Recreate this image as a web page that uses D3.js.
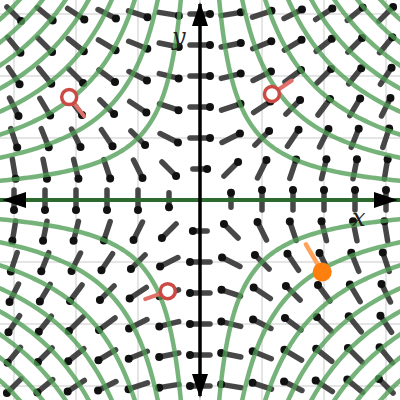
<!DOCTYPE html>
<html><head><meta charset="utf-8">
<script src="https://cdn.jsdelivr.net/npm/d3@7"></script>
<style>body{margin:0;background:#fff}</style>
</head><body><div id="chart"></div>
<script>
// grid ticks (units), curve levels |xy| = c, markers
const gridTicks = [-3, -2, -1, 0, 1, 2, 3];
const levels = [1, 2.2, 3.4, 4.6, 5.8, 7, 8.2, 9.4, 10.6, 12];
const quadrants = [[1, 1], [-1, 1], [-1, -1], [1, -1]];
const redPoints = [[-2.11, 1.66], [1.16, 1.71], [-0.52, -1.47]];
const orangePoint = [1.97, -1.16];

const W = 400, H = 400;
const x = d3.scaleLinear().domain([-3.226, 3.226]).range([0, W]);
const y = d3.scaleLinear().domain([-3.226, 3.226]).range([H, 0]);
const field = (a, b) => [b, a];

const svg = d3.select('#chart').append('svg')
    .attr('width', W).attr('height', H)

svg.selectAll('.gx').data(gridTicks).enter().append('line')
    .attr('x1', d => x(d)).attr('x2', d => x(d)).attr('y1', 0).attr('y2', H)
    .attr('stroke', '#ddd').attr('stroke-width', 1.5)
svg.selectAll('.gy').data(gridTicks).enter().append('line')
    .attr('y1', d => y(d)).attr('y2', d => y(d)).attr('x1', 0).attr('x2', W)
    .attr('stroke', '#ddd').attr('stroke-width', 1.5)

// arrows
const pts = [];
for (let i = -7; i <= 7; i++) for (let j = -7; j <= 7; j++) pts.push([i * 0.5, j * 0.5]);
const arrows = svg.append('g')
pts.forEach(([a, b]) => {
    const [u, v] = field(a, b);
    const m = Math.hypot(u, v);
    if (m === 0) return;
    const len = 20 * Math.min(1, m / 0.7);
    const dx = u / m * len, dy = -v / m * len;
    const cx = x(a), cy = y(b);
    arrows.append('line')
        .attr('x1', cx - dx / 2).attr('y1', cy - dy / 2)
        .attr('x2', cx + dx / 2).attr('y2', cy + dy / 2)
        .attr('stroke', '#333').attr('stroke-opacity', 0.9)
        .attr('stroke-width', 5.5).attr('stroke-linecap', 'round')
    arrows.append('circle')
        .attr('cx', cx + dx / 2).attr('cy', cy + dy / 2).attr('r', 4)
        .attr('fill', '#111')
})

// solution curves
const line = d3.line().x(d => x(d[0])).y(d => y(d[1]))
quadrants.forEach(([sx, sy]) => {
    levels.forEach(c => {
        const path = [];
        for (let t = -4; t <= 4; t += 0.02) {
            const a = Math.exp(t);
            path.push([sx * a, sy * c / a]);
        }
        svg.append('path').attr('d', line(path))
            .attr('fill', 'none').attr('stroke', '#4f9e55')
            .attr('stroke-opacity', 0.78).attr('stroke-width', 4.5)
    })
})

// axes
svg.append('line').attr('x1', 0).attr('x2', W).attr('y1', y(0)).attr('y2', y(0))
    .attr('stroke', '#2d6a2f').attr('stroke-width', 4)
svg.append('line').attr('y1', 4).attr('y2', H - 4).attr('x1', x(0)).attr('x2', x(0))
    .attr('stroke', '#000').attr('stroke-width', 3.5)
const tri = (px, py, ang) => {
    svg.append('path').attr('d', 'M0,0 L-24,-8 L-24,8 Z')
        .attr('transform', `translate(${px},${py}) rotate(${ang})`).attr('fill', '#000')
}
tri(x(0), 2, -90); tri(x(0), H - 2, 90); tri(2, y(0), 180); tri(W - 2, y(0), 0);

svg.append('text').attr('x', x(-0.45)).attr('y', y(2.5)).text('y')
    .attr('font-family', 'DejaVu Serif').attr('font-style', 'italic').attr('font-size', 24)
    .attr('font-weight', 300).attr('fill', '#222')
svg.append('text').attr('x', x(2.45)).attr('y', y(-0.42)).text('x')
    .attr('font-family', 'DejaVu Serif').attr('font-style', 'italic').attr('font-size', 24)
    .attr('fill', '#222')

// markers
const dirEnd = ([a, b], L) => {
    const [u, v] = field(a, b); const m = Math.hypot(u, v);
    return [x(a) + u / m * L, y(b) - v / m * L];
}
redPoints.forEach(p => {
    const e = dirEnd(p, 24);
    svg.append('line').attr('x1', x(p[0])).attr('y1', y(p[1])).attr('x2', e[0]).attr('y2', e[1])
        .attr('stroke', '#e0706a').attr('stroke-width', 4).attr('stroke-linecap', 'round')
    svg.append('circle').attr('cx', x(p[0])).attr('cy', y(p[1])).attr('r', 7.5)
        .attr('fill', '#fff').attr('stroke', '#cc4a44').attr('stroke-width', 3.5)
})
const oe = dirEnd(orangePoint, 32);
svg.append('line').attr('x1', x(orangePoint[0])).attr('y1', y(orangePoint[1])).attr('x2', oe[0]).attr('y2', oe[1])
    .attr('stroke', '#ffa35c').attr('stroke-width', 4.5).attr('stroke-linecap', 'round')
svg.append('circle').attr('cx', x(orangePoint[0])).attr('cy', y(orangePoint[1])).attr('r', 9.5)
    .attr('fill', '#ff7f0e')
</script></body></html>
